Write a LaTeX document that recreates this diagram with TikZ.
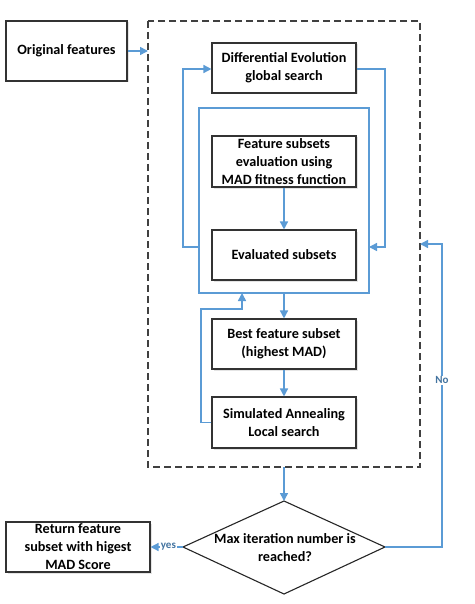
\documentclass[tikz,border=0pt]{standalone}
\usepackage{fontspec}
\setmainfont{Carlito}
\usetikzlibrary{arrows.meta,shadows}
\definecolor{flowblue}{RGB}{91,155,213}
\begin{document}
\begin{tikzpicture}[x=1pt,y=-1pt,
  every node/.style={font=\bfseries\fontsize{14.2}{18}\selectfont, align=center, inner sep=0pt},
  box/.style={draw=black!80, line width=1.1pt, fill=white, drop shadow={shadow xshift=1.5pt, shadow yshift=-1.5pt, fill=gray!35, opacity=0.6}},
  flow/.style={draw=flowblue, line width=1.5pt, -{Triangle[length=8pt,width=8pt]}},
  lbl/.style={font=\bfseries\fontsize{11}{13}\selectfont, text=flowblue!75!black, fill=white, inner sep=1pt}
]
\useasboundingbox (0,0) rectangle (474,604);
% dashed container
\draw[black!75, line width=1.2pt, dash pattern=on 7pt off 4pt] (148,21) rectangle (420,467);
\coordinate (dashL) at (148,51);
\coordinate (dashR) at (420,244);
\coordinate (dashB) at (284,467);
% inner blue box
\draw[flowblue, line width=1.5pt] (199,108) rectangle (369,293);
\coordinate (innL) at (199,247);
\coordinate (innR) at (369,247);
\coordinate (innB) at (284,293);
\coordinate (innBl) at (242,293);
% boxes
\node[box, minimum width=121pt, minimum height=60pt] (orig) at (66.5,51) {Original features};
\node[box, minimum width=144pt, minimum height=50pt] (de) at (284,68) {Differential Evolution\\global search};
\node[box, minimum width=144pt, minimum height=51pt] (fs) at (284,161.5) {Feature subsets\\evaluation using\\MAD fitness function};
\node[box, minimum width=144pt, minimum height=50pt] (es) at (284,255) {Evaluated subsets};
\node[box, minimum width=144pt, minimum height=50pt] (best) at (284,344) {Best feature subset\\(highest MAD)};
\node[box, minimum width=144pt, minimum height=51pt] (sa) at (284,422.5) {Simulated Annealing\\Local search};
\node[box, minimum width=144pt, minimum height=50pt] (ret) at (78,547) {Return feature\\subset with higest\\MAD Score};
% diamond
\coordinate (dT) at (284,501);
\coordinate (dB) at (284,594);
\coordinate (dL) at (183,547);
\coordinate (dR) at (385,547);
\draw[black!85, line width=1.1pt, fill=white] (dT) -- (dR) -- (dB) -- (dL) -- cycle;
\node (dtxt) at (285,548) {Max iteration number is\\reached?};
% connectors
\draw[flow] (orig.east) -- (dashL);
\draw[flow] (innL) -- (183,247) -- (183,69) -- (de.west |- 0,69);
\draw[flow] (de.east |- 0,69) -- (385,69) -- (385,247) -- (innR);
\draw[flow] (fs.south) -- (es.north);
\draw[flow] (innB) -- (best.north);
\draw[flow] (best.south) -- (sa.north);
\draw[flow] (sa.west) -- (201,422.5) -- (201,309) -- (242,309) -- (innBl);
\draw[flow] (dashB) -- (dT);
\draw[flow] (dL) -- node[lbl, pos=0.45]{yes} (ret.east);
\draw[flow] (dR) -- (442,547) -- node[lbl, pos=0.55]{No} (442,244) -- (dashR);
\end{tikzpicture}
\end{document}
